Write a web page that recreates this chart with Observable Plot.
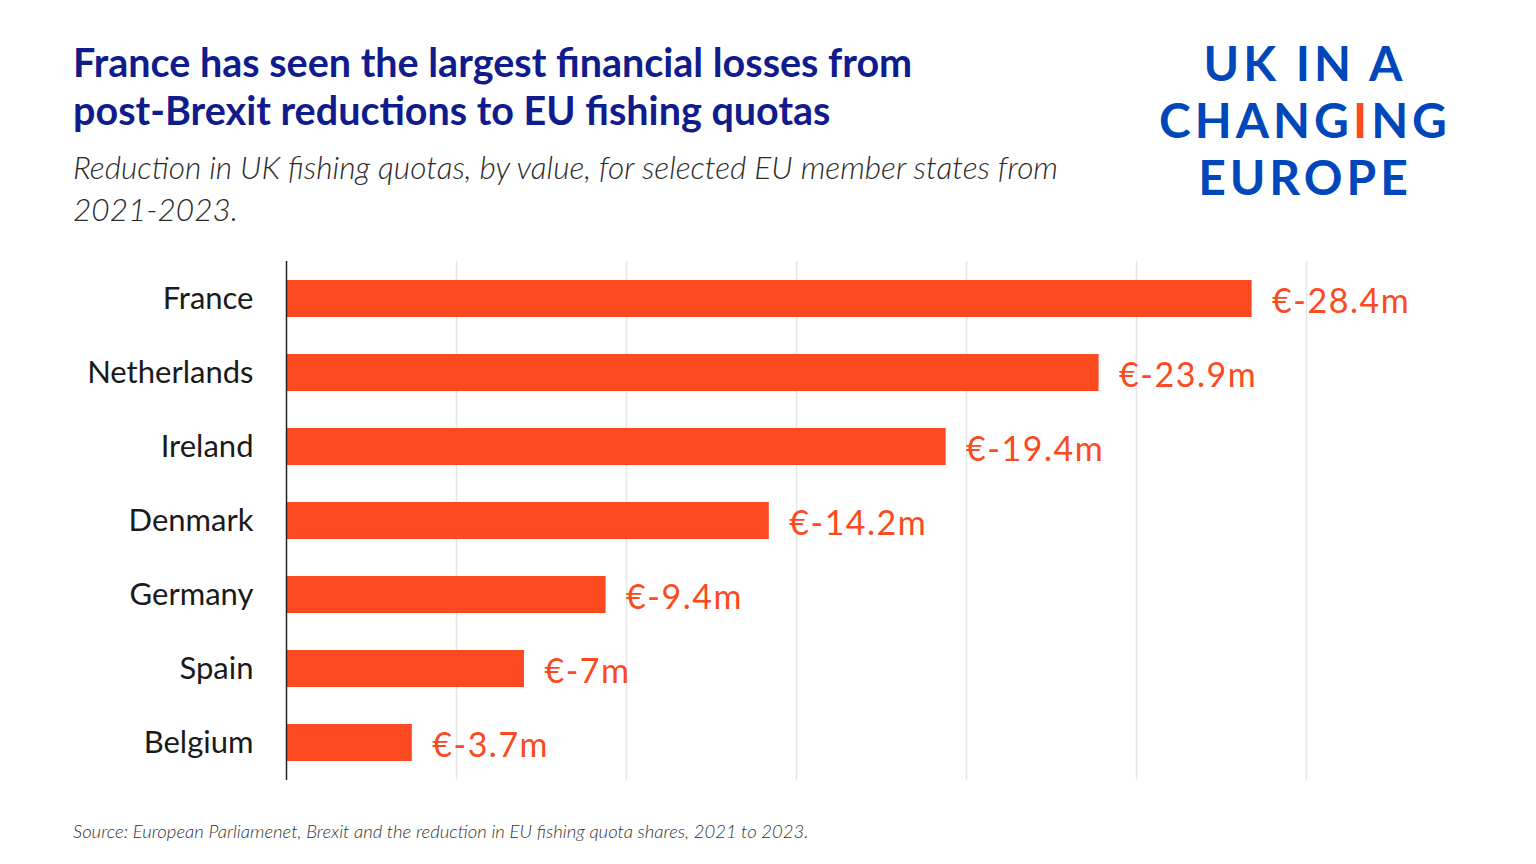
<!DOCTYPE html>
<html>
<head>
<meta charset="utf-8">
<script src="https://cdn.jsdelivr.net/npm/d3@7"></script>
<script src="https://cdn.jsdelivr.net/npm/@observablehq/plot@0.6"></script>
<style>
  html, body { margin: 0; padding: 0; background: #fff; }
  #page { position: relative; width: 1536px; height: 864px; overflow: hidden; font-family: Lato, "Open Sans", sans-serif; }
  #header { position: relative; height: 240px; }
  #title { position: absolute; left: 73px; top: 38px; margin: 0; font-size: 39.5px; line-height: 48px; font-weight: 700; color: #101c8c; }
  #subtitle { position: absolute; left: 73px; top: 146px; width: 1000px; margin: 0; font-size: 31.6px; line-height: 42px; font-style: italic; font-weight: 300; color: #2a2a2a; }
  #logo { position: absolute; left: 1110px; top: 34px; width: 390px; text-align: center; font-size: 48px; line-height: 57px; font-weight: 700; color: #0047bb; letter-spacing: 4px; }
  #logo div { height: 57px; }
  #logo .o { color: #ff4a1f; }
  #chart { position: relative; height: 560px; }
  #chart svg g[aria-label="text"] text { letter-spacing: 1.5px; }
  #caption { position: absolute; left: 73px; top: 820px; margin: 0; font-size: 18.5px; font-style: italic; font-weight: 300; color: #333; }
</style>
</head>
<body>
<div id="page">
  <div id="header">
    <h1 id="title">France has seen the largest financial losses from<br>post-Brexit reductions to EU fishing quotas</h1>
    <p id="subtitle">Reduction in UK fishing quotas, by value, for selected EU member states from 2021-2023.</p>
    <div id="logo"><div>UK IN A</div><div>CHANG<span class="o">I</span>NG</div><div>EUROPE</div></div>
  </div>
  <div id="chart"></div>
  <p id="caption">Source: European Parliamenet, Brexit and the reduction in EU fishing quota shares, 2021 to 2023.</p>
</div>
<script>
const countries = ["France", "Netherlands", "Ireland", "Denmark", "Germany", "Spain", "Belgium"];
const reductions = [-28.4, -23.9, -19.4, -14.2, -9.4, -7, -3.7]; // € million
const gridTicks = [5, 10, 15, 20, 25, 30];

const data = countries.map((c, i) => ({ country: c, value: reductions[i], loss: Math.abs(reductions[i]) }));
const barColor = "#fc4a20";

const chart = Plot.plot({
  width: 1536,
  height: 560,
  marginTop: 21,
  marginBottom: 20,
  marginLeft: 286,
  marginRight: 230,
  style: { fontFamily: "Lato, 'Open Sans', sans-serif", background: "transparent" },
  x: { domain: [0, 30], axis: null },
  y: { domain: countries, paddingInner: 0.5, paddingOuter: 0.25, label: null },
  marks: [
    Plot.gridX(gridTicks, { stroke: "#e6e6e6", strokeOpacity: 1, strokeWidth: 1.5 }),
    Plot.barX(data, { x: "loss", y: "country", fill: barColor }),
    Plot.ruleX([0], { stroke: "#222", strokeWidth: 1.5 }),
    Plot.axisY({ tickSize: 0, tickPadding: 33, fontSize: 31, fontWeight: 400, fill: "#1a1a1a", label: null }),
    Plot.text(data, {
      x: "loss", y: "country",
      text: d => "€" + d.value + "m",
      textAnchor: "start", dx: 20, dy: 3,
      fill: barColor, fontSize: 34
    })
  ]
});
document.getElementById("chart").appendChild(chart);
</script>
</body>
</html>
